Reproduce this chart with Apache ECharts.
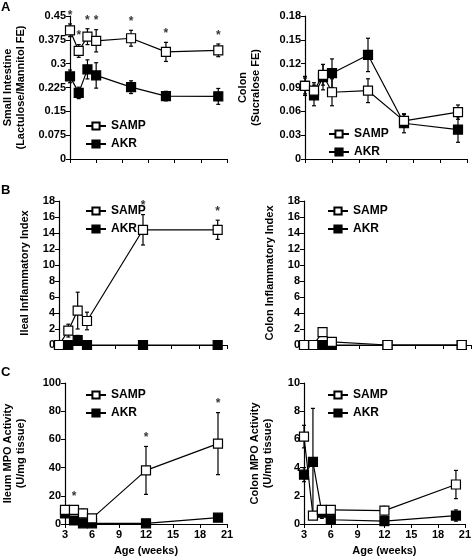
<!DOCTYPE html>
<html><head><meta charset="utf-8">
<script src="https://cdn.jsdelivr.net/npm/echarts@6/dist/echarts.min.js"></script>
<style>html,body{margin:0;padding:0;background:#fff}#c{width:474px;height:559px}</style>
</head><body><div id="c"></div>
<script>
const xTicks = [3, 6, 9, 12, 15, 18, 21];
const agesA = [3, 4, 5, 6, 10, 14, 20];
const agesBC = [3, 4, 5, 6, 12, 20];
// Panel A left: small intestine
const siSamp = [0.405, 0.34, 0.385, 0.372, 0.38, 0.337, 0.342];
const siSampErr = [0.02, 0.02, 0.025, 0.035, 0.025, 0.03, 0.02];
const siAkr = [0.26, 0.208, 0.282, 0.263, 0.226, 0.198, 0.197];
const siAkrErr = [0.02, 0.018, 0.03, 0.04, 0.02, 0.015, 0.025];
const siStars = [1, 1, 1, 1, 1, 1, 1];
// Panel A right: colon sucralose
const coSamp = [0.092, 0.086, 0.106, 0.084, 0.086, 0.048, 0.059];
const coSampErr = [0.01, 0.01, 0.013, 0.017, 0.015, 0.008, 0.009];
const coAkr = [0.092, 0.08, 0.103, 0.108, 0.131, 0.045, 0.037];
const coAkrErr = [0.012, 0.013, 0.016, 0.018, 0.021, 0.012, 0.016];
// Panel B left: ileal inflammatory index
const iiSamp = [0, 1.8, 4.3, 3.0, 14.4, 14.4];
const iiSampErr = [0, 0.8, 2.3, 1.1, 1.9, 1.2];
const iiAkr = [0, 0, 0.6, 0, 0, 0];
const iiAkrErr = [0, 0, 0.6, 0, 0, 0];
const iiStars = [0, 0, 0, 0, 1, 1];
// Panel B right: colon inflammatory index
const ciSamp = [0, 0, 1.6, 0.4, 0, 0];
const ciSampErr = [0, 0, 0.3, 0.1, 0, 0];
const ciAkr = [0, 0, 0, 0, 0, 0];
const ciAkrErr = [0, 0, 0, 0, 0, 0];
// Panel C left: ileum MPO
const imSamp = [10, 10, 7.5, 4, 38, 57];
const imSampErr = [3, 3, 3, 2, 17, 22];
const imAkr = [7.5, 2.5, 0.5, 0.5, 0.5, 4.5];
const imAkrErr = [2, 1, 0.5, 0.5, 0.5, 1];
const imStars = [0, 1, 0, 0, 1, 1];
// Panel C right: colon MPO
const cmSamp = [6.2, 0.6, 1.0, 1.0, 0.95, 2.8];
const cmSampErr = [0.8, 0.2, 0.3, 0.2, 0.3, 1.0];
const cmAkr = [3.5, 4.4, 0.8, 0.3, 0.2, 0.6];
const cmAkrErr = [0.5, 3.8, 0.4, 0.2, 0.1, 0.4];

const panels = [
  {grid:{left:60,width:167,top:16,height:143}, ages:agesA, s:siSamp, se:siSampErr, a:siAkr, ae:siAkrErr, stars:siStars,
   ymax:0.45, yint:0.075, name:'Small Intestine\n(Lactulose/Mannitol FE)', gap:43, xl:false, leg:[80,115]},
  {grid:{left:305,width:162,top:16,height:143}, ages:agesA, s:coSamp, se:coSampErr, a:coAkr, ae:coAkrErr, stars:null,
   ymax:0.18, yint:0.03, name:'Colon\n(Sucralose FE)', gap:43, xl:false, leg:[323,123]},
  {grid:{left:59,width:168,top:201,height:144}, ages:agesBC, s:iiSamp, se:iiSampErr, a:iiAkr, ae:iiAkrErr, stars:iiStars,
   ymax:18, yint:2, name:'Ileal Inflammatory Index', gap:28, xl:false, leg:[80,200]},
  {grid:{left:304,width:167,top:201,height:144}, ages:agesBC, s:ciSamp, se:ciSampErr, a:ciAkr, ae:ciAkrErr, stars:null,
   ymax:18, yint:2, name:'Colon Inflammatory Index', gap:28, xl:false, leg:[322,200]},
  {grid:{left:60,width:167,top:383,height:141}, ages:agesBC, s:imSamp, se:imSampErr, a:imAkr, ae:imAkrErr, stars:imStars,
   ymax:100, yint:20, name:'Ileum MPO Activity\n(U/mg tissue)', gap:38, xl:true, leg:[80,384]},
  {grid:{left:304,width:166,top:383,height:141}, ages:agesBC, s:cmSamp, se:cmSampErr, a:cmAkr, ae:cmAkrErr, stars:null,
   ymax:10, yint:2, name:'Colon MPO Activity\n(U/mg tissue)', gap:30, xl:true, leg:[322,384]}
];

const font = 'Liberation Sans, Arial, sans-serif';
const grids=[], xAxes=[], yAxes=[], series=[], legends=[];
function errSeries(i, ages, vals, errs){
  return {type:'custom', xAxisIndex:i, yAxisIndex:i, silent:true, z:1,
    data: ages.map((x,k)=>[x, vals[k]-errs[k], vals[k]+errs[k]]),
    renderItem:(p,api)=>{
      const lo=api.coord([api.value(0),api.value(1)]), hi=api.coord([api.value(0),api.value(2)]);
      const st={stroke:'#000',lineWidth:1.2};
      return {type:'group',children:[
        {type:'line',shape:{x1:lo[0],y1:lo[1],x2:hi[0],y2:hi[1]},style:st},
        {type:'line',shape:{x1:lo[0]-2,y1:lo[1],x2:lo[0]+2,y2:lo[1]},style:st},
        {type:'line',shape:{x1:hi[0]-2,y1:hi[1],x2:hi[0]+2,y2:hi[1]},style:st}]};
    }};
}
panels.forEach((p,i)=>{
  grids.push(p.grid);
  xAxes.push({type:'value', gridIndex:i, min:3, max:21, interval:3,
    axisLine:{lineStyle:{color:'#000',width:1.2}}, axisTick:{length:4,lineStyle:{color:'#000'}},
    splitLine:{show:false},
    axisLabel:{show:p.xl, color:'#000', fontWeight:'bold', fontSize:11, fontFamily:font, margin:5},
    name:p.xl?'Age (weeks)':'', nameLocation:'middle', nameGap:21,
    nameTextStyle:{color:'#000', fontWeight:'bold', fontSize:11, fontFamily:font}});
  yAxes.push({type:'value', gridIndex:i, min:0, max:p.ymax, interval:p.yint,
    axisLine:{show:true, lineStyle:{color:'#000',width:1.2}}, axisTick:{show:true,length:4,lineStyle:{color:'#000'}},
    splitLine:{show:false},
    axisLabel:{color:'#000', fontWeight:'bold', fontSize:11, fontFamily:font, margin:4},
    name:p.name, nameLocation:'middle', nameRotate:90, nameGap:p.gap,
    nameTextStyle:{color:'#000', fontWeight:'bold', fontSize:11, fontFamily:font, lineHeight:13}});
  series.push(errSeries(i,p.ages,p.s,p.se), errSeries(i,p.ages,p.a,p.ae));
  series.push({name:'SAMP', type:'line', xAxisIndex:i, yAxisIndex:i, data:p.ages.map((x,k)=>[x,p.s[k]]),
    symbol:'rect', symbolSize:9, z:3, lineStyle:{color:'#000',width:1.2},
    itemStyle:{color:'#fff',borderColor:'#000',borderWidth:1.2}});
  series.push({name:'AKR', type:'line', xAxisIndex:i, yAxisIndex:i, data:p.ages.map((x,k)=>[x,p.a[k]]),
    symbol:'rect', symbolSize:9, z:2, lineStyle:{color:'#000',width:1.2},
    itemStyle:{color:'#000',borderColor:'#000',borderWidth:1.2}});
  if(p.stars){
    series.push({type:'scatter', xAxisIndex:i, yAxisIndex:i, symbol:'circle', symbolSize:1, silent:true, z:5,
      itemStyle:{color:'rgba(0,0,0,0)'},
      data:p.ages.map((x,k)=>[x,p.s[k]+p.se[k],p.stars[k]]).filter(d=>d[2]),
      label:{show:true, formatter:'*', position:'top', distance:2, color:'#000', fontSize:12, fontWeight:'bold'}});
  }
  legends.push({left:p.leg[0], top:p.leg[1], orient:'vertical', data:['SAMP','AKR'], selectedMode:false,
    itemWidth:20, itemHeight:9, itemGap:6,
    textStyle:{color:'#000', fontWeight:'bold', fontSize:12, fontFamily:font}});
});
const letters=[['A',1],['B',184],['C',366]].map(([t,y])=>({type:'text',left:1,top:y,
  style:{text:t,font:'bold 13px '+font,fill:'#000'}}));
const chart=echarts.init(document.getElementById('c'));
chart.setOption({animation:false, grid:grids, xAxis:xAxes, yAxis:yAxes, series, legend:legends, graphic:letters});
</script></body></html>
